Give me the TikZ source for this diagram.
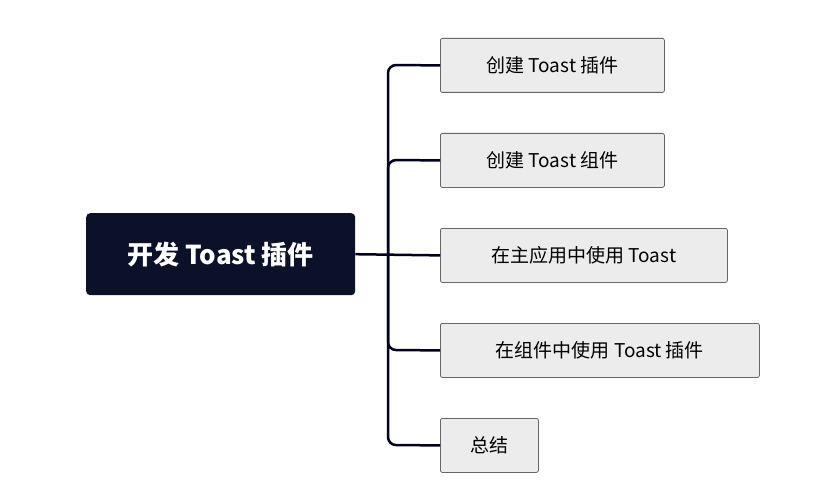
\documentclass[tikz,border=0pt]{standalone}
\usepackage{fontspec}
\setmainfont{Noto Sans CJK SC}
\begin{document}
\begin{tikzpicture}[x=1pt,y=-1pt,
  child/.style={draw=gray!80!black,fill=gray!15,rounded corners=2pt,line width=0.8pt,anchor=north west,inner sep=0pt,font=\fontsize{19}{22}\selectfont},
  link/.style={draw=black!80!blue!60!black,line width=2.5pt,rounded corners=8pt}]
\useasboundingbox (0,0) rectangle (827,500);
\node[fill={rgb,255:red,10;green,17;blue,40},rounded corners=4pt,text=white,font=\fontsize{26}{30}\selectfont\bfseries,minimum width=269pt,minimum height=82pt,anchor=north west,inner sep=0pt] (root) at (86,213) {开发 Toast 插件};
\node[child,minimum width=224pt,minimum height=54pt] (c1) at (440,38) {创建 Toast 插件};
\node[child,minimum width=224pt,minimum height=54pt] (c2) at (440,133) {创建 Toast 组件};
\node[child,minimum width=287pt,minimum height=54pt] (c3) at (440,228) {在主应用中使用 Toast};
\node[child,minimum width=319pt,minimum height=54pt] (c4) at (440,323) {在组件中使用 Toast 插件};
\node[child,minimum width=98pt,minimum height=54pt] (c5) at (440,418) {总结};
\coordinate (j) at (388,254);
\draw[link,rounded corners=0pt] (root.east) -- (c3.west);
\draw[link] (c1.west) -- (388,65) -- (388,445) -- (c5.west);
\draw[link] (c2.west) -- (388,160) -- (388,254);
\draw[link] (c4.west) -- (388,350) -- (388,254);
\end{tikzpicture}
\end{document}
